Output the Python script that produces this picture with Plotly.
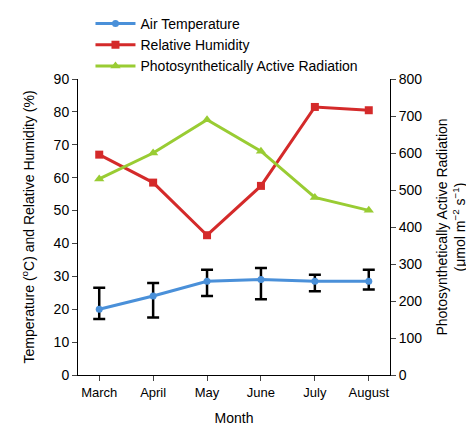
import plotly.graph_objects as go

months = ["March", "April", "May", "June", "July", "August"]
air_temp = [20, 24, 28.5, 29, 28.5, 28.5]
temp_hi = [26.5, 28, 32, 32.5, 30.5, 32]
temp_lo = [17, 17.5, 24, 23, 25.5, 26]
rel_hum = [67, 58.5, 42.5, 57.5, 81.5, 80.5]
par = [530, 600, 690, 605, 480, 445]

err_plus = [h - v for h, v in zip(temp_hi, air_temp)]
err_minus = [v - l for l, v in zip(temp_lo, air_temp)]

fig = go.Figure()
fig.add_trace(go.Scatter(x=months, y=air_temp, name="Air Temperature", mode="lines+markers",
    line=dict(color="#4a90d9", width=3), marker=dict(symbol="circle", size=7),
    error_y=dict(type="data", array=err_plus, arrayminus=err_minus, color="black", thickness=2.5, width=6)))
fig.add_trace(go.Scatter(x=months, y=rel_hum, name="Relative Humidity", mode="lines+markers",
    line=dict(color="#d42a2a", width=3), marker=dict(symbol="square", size=8)))
fig.add_trace(go.Scatter(x=months, y=par, name="Photosynthetically Active Radiation", mode="lines+markers",
    yaxis="y2", line=dict(color="#99cc33", width=3), marker=dict(symbol="triangle-up", size=9)))

fig.update_layout(
    width=474, height=429, paper_bgcolor="white", plot_bgcolor="white",
    margin=dict(l=70, r=92, t=71, b=62, autoexpand=False),
    font=dict(family="Liberation Sans, Arial", size=14, color="black"),
    legend=dict(x=0.04, y=1.24, xanchor="left", yanchor="top", bgcolor="rgba(0,0,0,0)",
                font=dict(size=14), tracegroupgap=0, itemwidth=40),
    xaxis=dict(title=dict(text="Month", standoff=14, font=dict(size=14)), showline=True, linecolor="black",
               ticks="outside", ticklen=5, showgrid=False, tickfont=dict(size=13)),
    yaxis=dict(title=dict(text="Temperature (<sup>o</sup>C) and Relative Humidity (%)", font=dict(size=14)),
               range=[0, 90], dtick=10, showline=True, linecolor="black", ticks="outside",
               showgrid=False, zeroline=False, tickfont=dict(size=14)),
    yaxis2=dict(title=dict(text="Photosynthetically Active Radiation<br>(μmol m<sup>−2</sup> s<sup>−1</sup>)", font=dict(size=14)),
                overlaying="y", side="right", range=[0, 800], dtick=100, showline=True,
                linecolor="black", ticks="outside", showgrid=False, zeroline=False, tickfont=dict(size=14)),
)
fig.write_html("out.html")
